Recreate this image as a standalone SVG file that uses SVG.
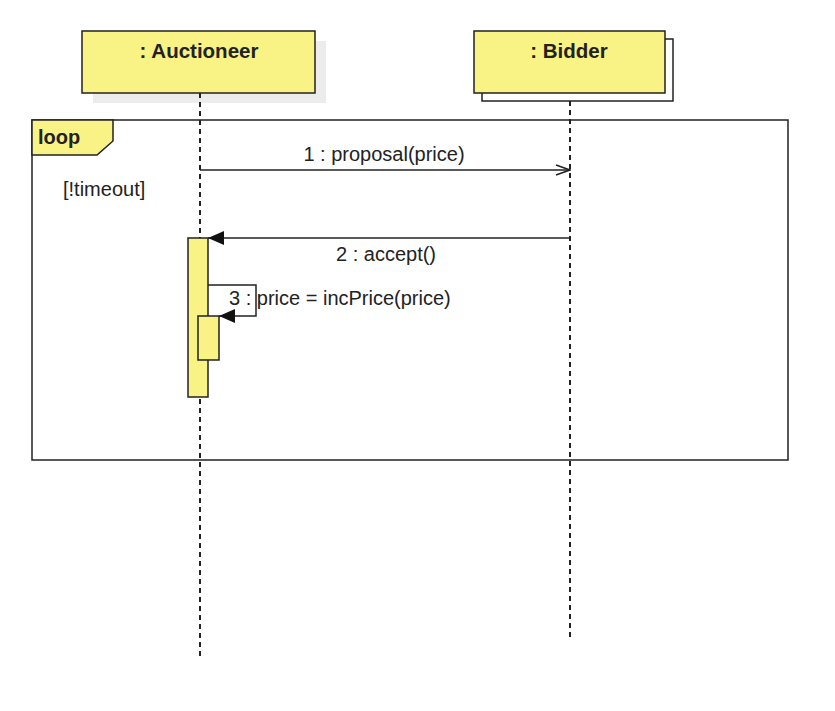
<svg xmlns="http://www.w3.org/2000/svg" width="835" height="711" viewBox="0 0 835 711">
<style>
text{font-family:"Liberation Sans",Arial,sans-serif;fill:#222}
.hdr{font-size:20.5px;font-weight:bold;text-anchor:middle}
.lbl{font-size:20px}
.life{stroke:#222;stroke-width:2;stroke-dasharray:5,4;fill:none}
.ln{stroke:#222;stroke-width:1.5;fill:none}
.box{fill:#f9f285;stroke:#222;stroke-width:1.5}
</style>
<defs>
<marker id="open" viewBox="0 0 16 12" refX="15" refY="6" markerWidth="16" markerHeight="12" markerUnits="userSpaceOnUse" orient="auto"><path d="M1,1 L15,6 L1,11" fill="none" stroke="#222" stroke-width="1.5"/></marker>
<marker id="fill" viewBox="0 0 16 14" refX="16" refY="7" markerWidth="16" markerHeight="14" markerUnits="userSpaceOnUse" orient="auto"><path d="M0,0 L16,7 L0,14 Z" fill="#111"/></marker>
</defs>
<rect width="835" height="711" fill="#fff"/>
<g id="loop">
<rect x="32" y="120" width="756" height="340" fill="none" stroke="#222" stroke-width="1.5"/>
<path d="M32,120 L113,120 L113,141 L97,155 L32,155 Z" class="box"/>
<text x="38" y="144" style="font-size:20px;font-weight:bold">loop</text>
<text x="63" y="196" class="lbl">[!timeout]</text>
</g>
<g id="auctioneer">
<rect x="93" y="41" width="233" height="62" fill="#ececec"/>
<rect x="82" y="31" width="233" height="62" class="box"/>
<text x="199" y="58" class="hdr">: Auctioneer</text>
<line x1="200" y1="93" x2="200" y2="658" class="life"/>
</g>
<g id="bidder">
<rect x="482" y="39" width="191" height="62" fill="#fff" stroke="#222" stroke-width="1.5"/>
<rect x="474" y="31" width="191" height="62" class="box"/>
<text x="569" y="58" class="hdr">: Bidder</text>
<line x1="570" y1="101" x2="570" y2="638" class="life"/>
</g>
<g id="activation1">
<rect x="188" y="238" width="20" height="159" class="box"/>
</g>
<g id="activation2">
<rect x="198" y="316" width="21" height="44" class="box"/>
</g>
<g id="connectors">
<line x1="200" y1="170" x2="570" y2="170" class="ln" marker-end="url(#open)"/>
<text x="384" y="161" class="lbl" text-anchor="middle">1 : proposal(price)</text>
<line x1="570" y1="238" x2="208" y2="238" class="ln" marker-end="url(#fill)"/>
<text x="386" y="261" class="lbl" text-anchor="middle">2 : accept()</text>
<polyline points="208,285 256,285 256,316 219,316" class="ln" marker-end="url(#fill)"/>
<text x="229" y="305" class="lbl">3 : price = incPrice(price)</text>
</g>
</svg>
